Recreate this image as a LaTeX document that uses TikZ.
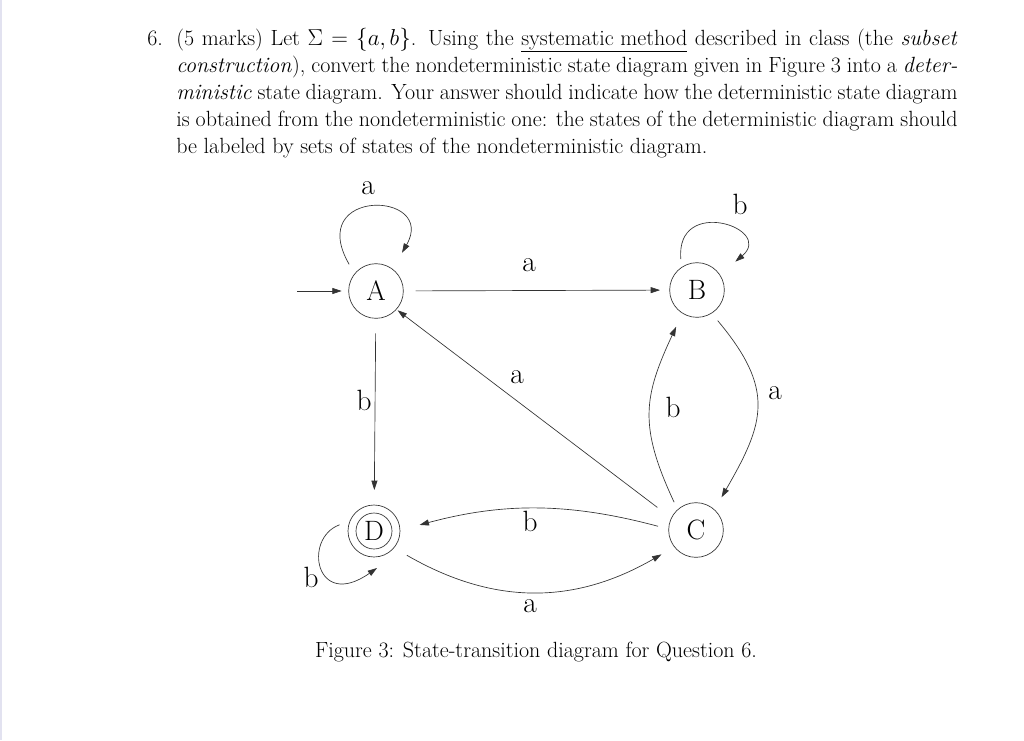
\documentclass[tikz,border=0pt]{standalone}
\usetikzlibrary{arrows.meta}
\definecolor{edgelav}{RGB}{226,226,240}
\begin{document}
\begin{tikzpicture}[x=0.75pt,y=0.75pt,
  state/.style={circle, draw=black!80, line width=0.5pt, minimum size=41pt, inner sep=0pt, font=\fontsize{21}{25}\selectfont},
  lbl/.style={font=\fontsize{22}{26}\selectfont, inner sep=0pt},
  arr/.style={draw=black!80, line width=0.5pt, -{Triangle[length=7pt,width=4.5pt]}},
  body/.style={font=\fontsize{16.5}{20.25}\selectfont, inner sep=0pt}]
\useasboundingbox (0,0) rectangle (1024,-740);
\fill[white] (0,0) rectangle (1024,-740);
\fill[edgelav] (0,0) rectangle (2,-740);

% question text
\node[body, anchor=base west] (num) at (147,-45) {6.};
\node[body, anchor=base west] (txt) at (176,-45) {\parbox[t]{586pt}{\fontsize{16.5}{20.25}\selectfont\hyphenpenalty=10000
(5 marks) Let $\Sigma = \{a,b\}$. Using the \underline{systematic method} described in class (the \textit{subset}\linebreak
\textit{construction}), convert the nondeterministic state diagram given in Figure 3 into a \textit{deter-}\linebreak
\textit{ministic} state diagram. Your answer should indicate how the deterministic state diagram\linebreak
is obtained from the nondeterministic one: the states of the deterministic diagram should\linebreak
be labeled by sets of states of the nondeterministic diagram.}};

% states
\node[state] (A) at (376,-291) {A};
\node[state] (B) at (697,-290) {B};
\node[state] (C) at (696,-530) {C};
\node[state, minimum size=39pt] (D) at (374,-531) {D};
\draw[draw=black!80, line width=0.5pt] (D.center) circle[radius=13.5pt];

\coordinate (init) at (297,-291);
\path (D.center) ++(3,-37) coordinate (Dtip);

% connectors
\draw[arr, shorten >=5pt] (init) -- (A);
\draw[arr, shorten <=9pt, shorten >=7pt] (A) -- (B);
\draw[arr, shorten <=11pt, shorten >=11pt] (A) -- (D);
\draw[arr, shorten <=13pt, shorten >=1pt] (C.154) -- (A.-42);
\draw[arr, shorten <=7pt, shorten >=10.5pt] (B.-58) to[out=-50, in=60, looseness=1.3] (C.48);
\draw[arr, shorten <=6pt, shorten >=11pt] (C.132) to[out=115, in=-115, looseness=1.2] (B.-122);
\draw[arr, shorten <=8pt, shorten >=15pt] (C.178) to[out=165, in=15] (D.2);
\draw[arr, shorten <=11pt, shorten >=11pt] (D.-40) to[out=-30, in=210, looseness=1.05] (C.218);
\draw[arr, shorten <=8pt, shorten >=14pt] (A.141) .. controls +(120:100) and +(60:90) .. (A.53);
\draw[arr, shorten <=6pt, shorten >=15pt] (B.124) .. controls +(95:72) and +(40:72) .. (B.34);
\draw[arr, shorten <=8pt] (D.158) .. controls +(200:50) and +(215:75) .. (Dtip);

% labels
\node[lbl] (la) at (368,-188) {a};
\node[lbl] (lb) at (740,-204) {b};
\node[lbl] (lab) at (529,-265) {a};
\node[lbl] (lad) at (364,-400) {b};
\node[lbl] (lca) at (517,-377) {a};
\node[lbl] (lcb) at (673,-407) {b};
\node[lbl] (lbc) at (775,-393) {a};
\node[lbl] (lcd) at (530,-521) {b};
\node[lbl] (ldc) at (530,-606) {a};
\node[lbl] (ld) at (311,-577) {b};

% caption
\node[body, anchor=base] (cap) at (536,-657) {Figure 3: State-transition diagram for Question 6.};
\end{tikzpicture}
\end{document}
